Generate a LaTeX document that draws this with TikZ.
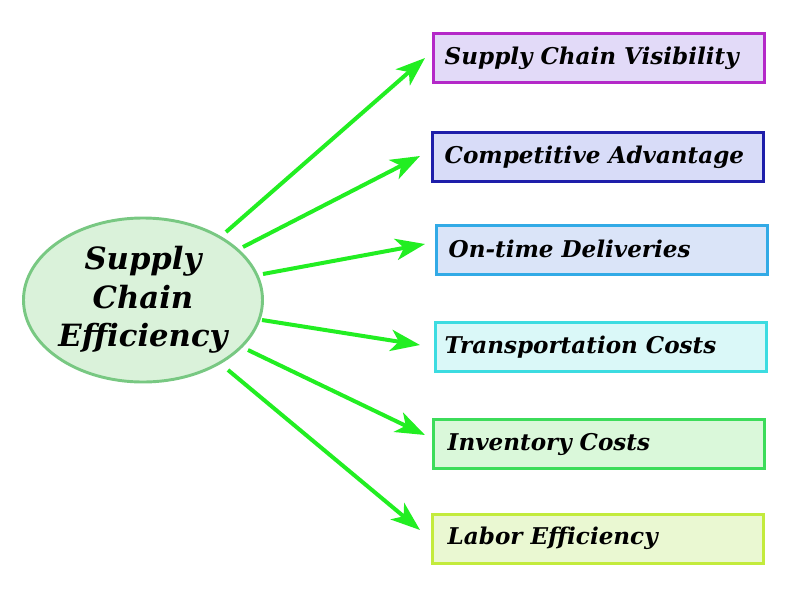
\documentclass[tikz,border=0pt]{standalone}
\usepackage{fontspec}
\setmainfont{DejaVu Serif}
\usetikzlibrary{arrows.meta,shapes.geometric}
\definecolor{arr}{HTML}{22EE22}
\definecolor{eb}{RGB}{120,200,130}\definecolor{ef}{RGB}{218,242,218}
\definecolor{d1}{RGB}{180,40,200}\definecolor{f1}{RGB}{226,218,248}
\definecolor{d2}{RGB}{30,30,170}\definecolor{f2}{RGB}{216,220,248}
\definecolor{d3}{RGB}{50,170,230}\definecolor{f3}{RGB}{218,228,248}
\definecolor{d4}{RGB}{60,220,225}\definecolor{f4}{RGB}{218,248,248}
\definecolor{d5}{RGB}{60,220,90}\definecolor{f5}{RGB}{218,248,218}
\definecolor{d6}{RGB}{195,235,60}\definecolor{f6}{RGB}{234,248,210}
\begin{document}
\begin{tikzpicture}[x=0.75pt,y=-0.75pt,
  box/.style={draw=d#1,fill=f#1,line width=2.2pt,minimum width=248.5pt,minimum height=36.5pt,anchor=north west,inner sep=0pt},
  lbl/.style={font=\bfseries\itshape\fontsize{17.3}{19}\selectfont,anchor=west},
  arrw/.style={draw=arr,line width=3pt,-{Stealth[length=22pt,width=16pt,inset=6pt]}}]
\useasboundingbox (0,0) rectangle (800,594);
\node[ellipse,draw=eb,fill=ef,line width=2.2pt,minimum width=177pt,minimum height=123pt,font=\bfseries\itshape\fontsize{23}{29}\selectfont,align=center,inner sep=0pt] (e) at (143,300) {Supply\\Chain\\Efficiency};
\node[box=1] (b1) at (432,32) {};
\node[box=2] (b2) at (431,131) {};
\node[box=3] (b3) at (435,224) {};
\node[box=4] (b4) at (434,321) {};
\node[box=5] (b5) at (432,418) {};
\node[box=6] (b6) at (431,513) {};
\node[lbl] (t1) at (440,58) {Supply Chain Visibility};
\node[lbl] (t2) at (440,157) {Competitive Advantage};
\node[lbl] (t3) at (444,249) {On-time Deliveries};
\node[lbl] (t4) at (440,347) {Transportation Costs};
\node[lbl] (t5) at (443,444) {Inventory Costs};
\node[lbl] (t6) at (443,538) {Labor Efficiency};
\coordinate (s1) at (226,232); \coordinate (a1) at (425,58);
\coordinate (s2) at (243,247); \coordinate (a2) at (420,156);
\coordinate (s3) at (263,274); \coordinate (a3) at (425,244);
\coordinate (s4) at (262,320); \coordinate (a4) at (420,345);
\coordinate (s5) at (248,350); \coordinate (a5) at (425,435);
\coordinate (s6) at (228,370); \coordinate (a6) at (420,530);
\foreach \i in {1,...,6} \draw[arrw] (s\i) -- (a\i);
\end{tikzpicture}
\end{document}
